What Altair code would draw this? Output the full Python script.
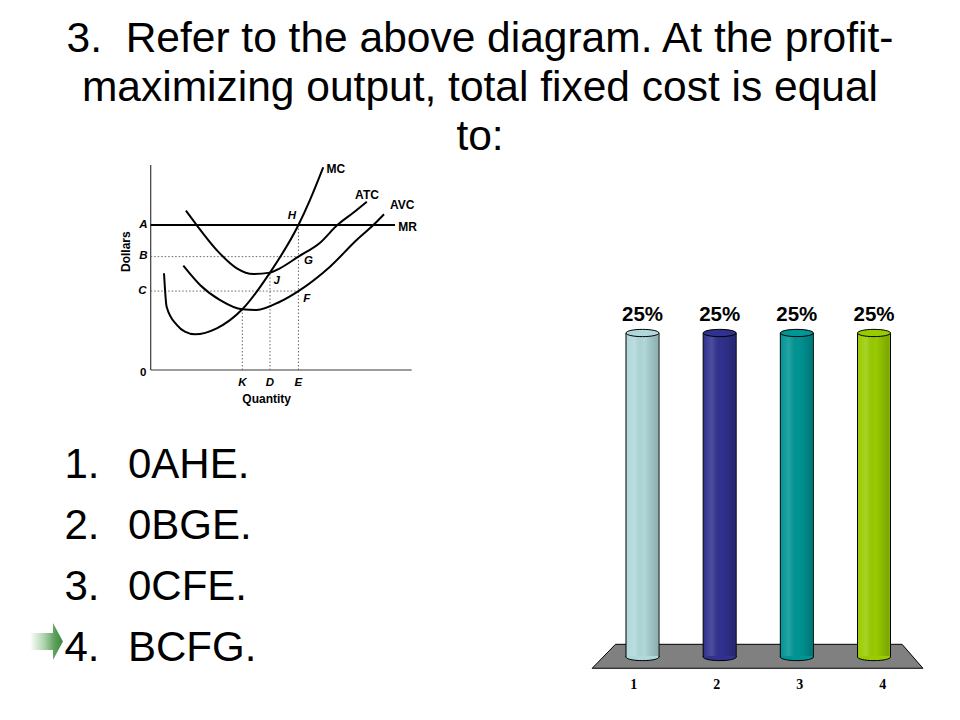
import altair as alt
import pandas as pd

# ---------------- data ----------------
TITLE_LINES = [
    "3.\u00a0 Refer to the above diagram. At the profit-",
    "maximizing output, total fixed cost is equal",
    "to:",
]

# cost-curve diagram, quantity and dollars both on a 0-100 scale
MC_Q = [5.1, 6.1, 10.0, 13.1, 17.0, 25.3, 35.1, 45.7, 56.6, 61.0, 66.1]
MC_D = [47.2, 30.9, 22.0, 18.7, 17.4, 20.3, 29.6, 47.5, 70.7, 82.9, 98.9]
ATC_Q = [13.5, 17.6, 25.3, 33.0, 39.3, 45.7, 49.5, 56.6, 64.9, 71.5, 77.6, 82.8]
ATC_D = [77.7, 70.7, 58.5, 49.6, 46.8, 47.5, 49.6, 55.3, 62.1, 70.7, 76.7, 82.1]
AVC_Q = [12.5, 18.9, 26.6, 35.1, 40.6, 49.5, 56.6, 68.7, 78.9, 85.3, 89.4]
AVC_D = [50.9, 41.5, 34.1, 29.6, 29.3, 33.3, 38.5, 50.4, 63.4, 70.7, 76.0]

LEVEL_A = 70.7   # price = MR
LEVEL_B = 55.3   # ATC at E
LEVEL_C = 38.5   # AVC at E
LEVEL_J = 47.5   # ATC minimum (J)
LEVEL_K = 29.6   # AVC minimum meets MC
Q_K, Q_D, Q_E = 35.1, 45.7, 56.6
MR_END = 93.6
AXIS_MAX = 100

ANSWER_NUMS = ["1.", "2.", "3.", "4."]
ANSWER_TEXTS = ["0AHE.", "0BGE.", "0CFE.", "BCFG."]
CORRECT = 4

OPTIONS = [1, 2, 3, 4]
VOTE_PCT = [25, 25, 25, 25]
BAR_COLORS = ["#b0d8da", "#31318f", "#009595", "#99cc00"]
FLOOR_Y = [-0.87, 0.98]
FLOOR_LEFT = [0.348, 0.65]
FLOOR_RIGHT = [4.634, 4.364]
FLOOR_SPREAD = 1.075   # perspective widening of the front edge of the floor

SANS = "Liberation Sans"

# ---------------- scales ----------------
DX = alt.Scale(domain=[0, 100], range=[142.7, 403.7], nice=False, zero=False)
DY = alt.Scale(domain=[0, 100], range=[362, 157], nice=False, zero=False)
TY = alt.Scale(domain=[0, 2], range=[43.7, 142], nice=False, zero=False)
AY = alt.Scale(domain=[1, 4], range=[469.7, 653], nice=False, zero=False)
BX = alt.Scale(domain=[1, 4], range=[629.5, 871], nice=False, zero=False)
BY = alt.Scale(domain=[0, 25], range=[649, 325], nice=False, zero=False)
COL = alt.Scale(domain=OPTIONS, range=BAR_COLORS)

# ---------------- title ----------------
title_df = pd.DataFrame({"line": list(range(len(TITLE_LINES))), "t": TITLE_LINES})
title = alt.Chart(title_df).mark_text(
    align="center", baseline="alphabetic", fontSize=42.5, font=SANS, color="black"
).encode(
    x=alt.value(472),
    y=alt.Y("line:Q", scale=TY, axis=None),
    text="t:N",
)

# ---------------- diagram ----------------
rows = []
for name, qs, ds in [("MC", MC_Q, MC_D), ("ATC", ATC_Q, ATC_D), ("AVC", AVC_Q, AVC_D)]:
    for i, (q, d) in enumerate(zip(qs, ds)):
        rows.append({"curve": name, "i": i, "q": q, "d": d})
curves_df = pd.DataFrame(rows)

curves = alt.Chart(curves_df).mark_line(
    interpolate="monotone", color="black", strokeWidth=2
).encode(
    x=alt.X("q:Q", scale=DX, axis=None),
    y=alt.Y("d:Q", scale=DY, axis=None),
    detail="curve:N",
    order="i:Q",
)

axes_df = pd.DataFrame({"x": [0, 0], "y": [0, 0], "x2": [0, AXIS_MAX], "y2": [AXIS_MAX, 0]})
axes = alt.Chart(axes_df).mark_rule(color="#3a3a3a", strokeWidth=1.2).encode(
    x=alt.X("x:Q", scale=DX, axis=None), y=alt.Y("y:Q", scale=DY, axis=None),
    x2="x2:Q", y2="y2:Q",
)

dots_df = pd.DataFrame({
    "x": [0, 0, Q_K, Q_D, Q_E],
    "y": [LEVEL_B, LEVEL_C, 0, 0, 0],
    "x2": [Q_E, Q_E, Q_K, Q_D, Q_E],
    "y2": [LEVEL_B, LEVEL_C, LEVEL_K, LEVEL_J, LEVEL_A],
})
dots = alt.Chart(dots_df).mark_rule(color="#666666", strokeWidth=1, strokeDash=[1.5, 2]).encode(
    x=alt.X("x:Q", scale=DX, axis=None), y=alt.Y("y:Q", scale=DY, axis=None),
    x2="x2:Q", y2="y2:Q",
)

mr_df = pd.DataFrame({"x": [0], "x2": [MR_END], "y": [LEVEL_A]})
mr = alt.Chart(mr_df).mark_rule(color="black", strokeWidth=2).encode(
    x=alt.X("x:Q", scale=DX, axis=None), x2="x2:Q",
    y=alt.Y("y:Q", scale=DY, axis=None),
)


def dlabel(text, q, d, dx=0, dy=0, italic=False, align="center", size=12, angle=0):
    df = pd.DataFrame({"t": [text], "q": [q], "d": [d]})
    return alt.Chart(df).mark_text(
        align=align, baseline="middle", dx=dx, dy=dy, angle=angle,
        fontSize=size, fontWeight="bold",
        fontStyle="italic" if italic else "normal",
        font=SANS, color="black",
    ).encode(
        x=alt.X("q:Q", scale=DX, axis=None),
        y=alt.Y("d:Q", scale=DY, axis=None),
        text="t:N",
    )


labels = [
    dlabel("MC", MC_Q[-1], MC_D[-1], dx=3.4, dy=2, align="left"),
    dlabel("ATC", ATC_Q[-1], ATC_D[-1], dx=-11.7, dy=-6.7, align="left"),
    dlabel("AVC", AVC_Q[-1], AVC_D[-1], dx=6, dy=-9.3, align="left"),
    dlabel("MR", MR_END, LEVEL_A, dx=3.3, dy=1.7, align="left"),
    dlabel("H", Q_E, LEVEL_A, dx=-6.6, dy=-9.3, italic=True, size=11.5),
    dlabel("G", Q_E, LEVEL_B, dx=10, dy=4, italic=True, size=11.5),
    dlabel("J", Q_D, LEVEL_J, dx=6.7, dy=8.3, italic=True, size=11.5),
    dlabel("F", Q_E, LEVEL_C, dx=8.4, dy=8.3, italic=True, size=11.5),
    dlabel("A", 0, LEVEL_A, dx=-7.4, italic=True, size=11.5),
    dlabel("B", 0, LEVEL_B, dx=-7.4, dy=-0.5, italic=True, size=11.5),
    dlabel("C", 0, LEVEL_C, dx=-8.4, dy=0.3, italic=True, size=11.5),
    dlabel("0", 0, 0, dx=-7.4, dy=3.3, size=11.5),
    dlabel("K", Q_K, 0, dy=12.7, italic=True, size=11.5),
    dlabel("D", Q_D, 0, dy=12.7, italic=True, size=11.5),
    dlabel("E", Q_E, 0, dy=12.7, italic=True, size=11.5),
    dlabel("Quantity", Q_D, 0, dx=-3.3, dy=29.3),
    # rotated text: dx runs upward, dy runs rightward on screen
    dlabel("Dollars", 0, LEVEL_B, dx=5, dy=-24.7, angle=270),
]

diagram = alt.layer(axes, dots, mr, curves, *labels)

# ---------------- answers ----------------
ans_df = pd.DataFrame({"idx": [1, 2, 3, 4], "num": ANSWER_NUMS, "ans": ANSWER_TEXTS})
nums = alt.Chart(ans_df).mark_text(
    align="left", baseline="alphabetic", fontSize=42, font=SANS, color="black"
).encode(x=alt.value(56.5), y=alt.Y("idx:Q", scale=AY, axis=None), text="num:N")
texts = alt.Chart(ans_df).mark_text(
    align="left", baseline="alphabetic", fontSize=42, font=SANS, color="black"
).encode(x=alt.value(120), y=alt.Y("idx:Q", scale=AY, axis=None), text="ans:N")

ARROW_PATH = "M-0.89,-0.46 L0.35,-0.46 L0.35,-1 L0.89,0 L0.35,1 L0.35,0.46 L-0.89,0.46 Z"
ARROW_GRAD = alt.LinearGradient(
    gradient="linear", x1=0, x2=1, y1=0, y2=0,
    stops=[
        alt.GradientStop(offset=0, color="#ffffff"),
        alt.GradientStop(offset=0.45, color="#a9d0a9"),
        alt.GradientStop(offset=0.75, color="#5c9e5c"),
        alt.GradientStop(offset=1, color="#3b8a3b"),
    ],
)
arrow = alt.Chart(ans_df).transform_filter(alt.datum.idx == CORRECT).mark_point(
    shape=ARROW_PATH, size=1369, filled=True, fill=ARROW_GRAD, opacity=1,
    strokeWidth=0, yOffset=-19.5,
).encode(x=alt.value(38.5), y=alt.Y("idx:Q", scale=AY, axis=None))

answers = alt.layer(nums, texts, arrow)

# ---------------- vote bars ----------------
bar_df = pd.DataFrame({
    "opt": OPTIONS, "pct": VOTE_PCT, "base": [0] * len(OPTIONS),
    "label": [f"{p}%" for p in VOTE_PCT],
    "tick": [str(o) for o in OPTIONS],
})
floor_df = pd.DataFrame({"fy": FLOOR_Y, "fl": FLOOR_LEFT, "fr": FLOOR_RIGHT})

floor = alt.Chart(floor_df).mark_area(
    orient="horizontal", color="#808080", stroke="black", strokeWidth=1, opacity=1
).encode(
    y=alt.Y("fy:Q", scale=BY, axis=None),
    x=alt.X("fl:Q", scale=BX, axis=None),
    x2="fr:Q",
)

xenc = alt.X("opt:Q", scale=BX, axis=None)
cenc = alt.Color("opt:N", scale=COL, legend=None)

bars = alt.Chart(bar_df).mark_bar(width=33, stroke="black", strokeWidth=1).encode(
    x=xenc, y=alt.Y("pct:Q", scale=BY, axis=None), color=cenc
)
SHADE = alt.LinearGradient(
    gradient="linear", x1=0, x2=1, y1=0, y2=0,
    stops=[
        alt.GradientStop(offset=0, color="rgba(255,255,255,0.02)"),
        alt.GradientStop(offset=0.25, color="rgba(255,255,255,0.14)"),
        alt.GradientStop(offset=0.55, color="rgba(0,0,0,0.0)"),
        alt.GradientStop(offset=1, color="rgba(0,0,0,0.2)"),
    ],
)
shade = alt.Chart(bar_df).mark_bar(width=31, fill=SHADE, strokeWidth=0).encode(
    x=xenc, y=alt.Y("pct:Q", scale=BY, axis=None)
)

BOTTOM_CAP = "M-1,-0.06 L-1,0 A1,0.22 0 0,0 1,0 L1,-0.06"
TOP_CAP = "M-1,0 A1,0.22 0 0,0 1,0 A1,0.22 0 0,0 -1,0 Z"
bottom_caps = alt.Chart(bar_df).mark_point(
    shape=BOTTOM_CAP, size=1089, filled=True, opacity=1, stroke="black", strokeWidth=1
).encode(x=xenc, y=alt.Y("base:Q", scale=BY, axis=None), color=cenc)
top_caps = alt.Chart(bar_df).mark_point(
    shape=TOP_CAP, size=1089, filled=True, opacity=1, stroke="black", strokeWidth=1
).encode(x=xenc, y=alt.Y("pct:Q", scale=BY, axis=None), color=cenc)

pct_labels = alt.Chart(bar_df).mark_text(
    baseline="alphabetic", dy=-12, fontSize=20.5, fontWeight="bold", font=SANS, color="black"
).encode(x=xenc, y=alt.Y("pct:Q", scale=BY, axis=None), text="label:N")

ticks = alt.Chart(bar_df).transform_calculate(
    tx=f"2.5 + (datum.opt - 2.5) * {FLOOR_SPREAD}"
).mark_text(
    baseline="middle", dy=28, fontSize=14, fontWeight="bold", font="Liberation Serif", color="black"
).encode(x=alt.X("tx:Q", scale=BX, axis=None), y=alt.Y("base:Q", scale=BY, axis=None), text="tick:N")

votes = alt.layer(floor, bars, shade, bottom_caps, top_caps, pct_labels, ticks)

# ---------------- compose ----------------
chart = alt.layer(title, diagram, answers, votes).resolve_scale(
    x="independent", y="independent", color="independent"
).properties(
    width=944, height=704,
    autosize=alt.AutoSizeParams(type="none"),
    padding=0,
    background="white",
).configure_view(stroke=None)

chart.save("out.html", embed_options={"renderer": "svg", "actions": False})
